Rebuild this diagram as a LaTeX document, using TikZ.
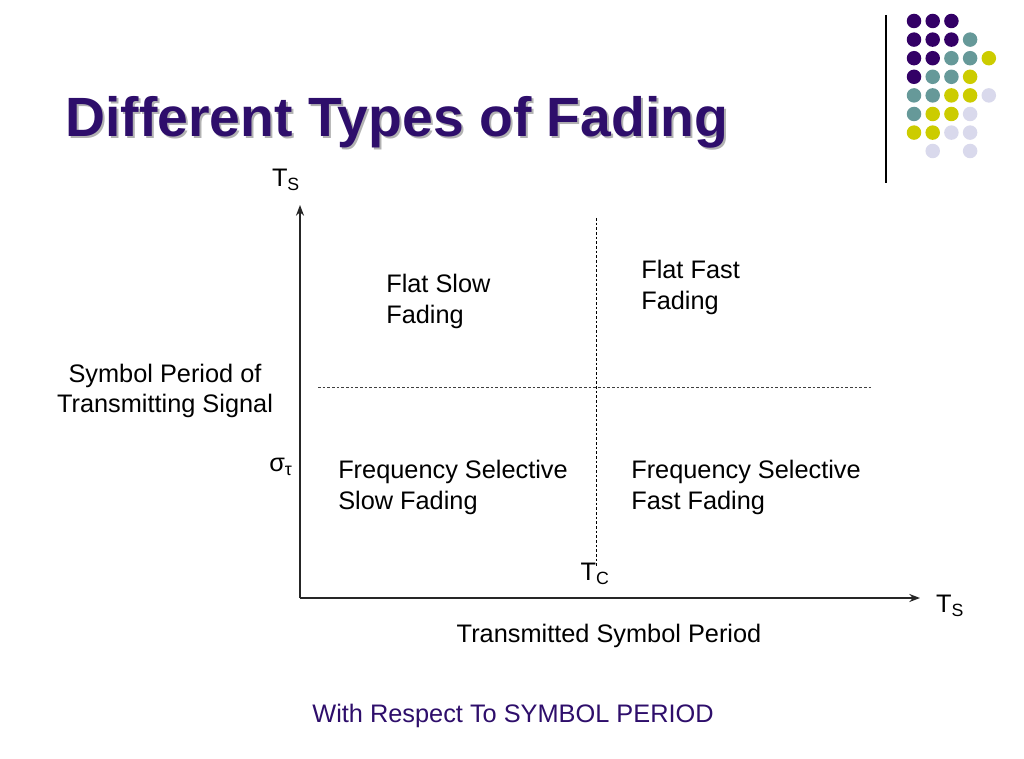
\documentclass[tikz,border=0pt]{standalone}
\usepackage{fontspec}
\setmainfont{Liberation Sans}
\usetikzlibrary{arrows.meta}
\definecolor{dP}{HTML}{330066}
\definecolor{dT}{HTML}{669999}
\definecolor{dY}{HTML}{CCCC00}
\definecolor{dL}{HTML}{D9D9EC}
\definecolor{ttl}{HTML}{2E0E6B}
\tikzset{txt/.style={font=\fontsize{19}{23}\selectfont},
 lbl/.style={txt, align=left, inner sep=0pt},
 dot/.style={circle, minimum size=14.5*0.75pt, inner sep=0pt}}
\begin{document}
\begin{tikzpicture}[x=0.75pt,y=-0.75pt]
\useasboundingbox (0,0) rectangle (1024,759);
\fill[white] (0,0) rectangle (1024,759);
% title
\node[anchor=west, font=\bfseries\fontsize{41.5}{48}\selectfont, text=gray!60, inner sep=0pt] at (67,124) {Different Types of Fading};
\node[anchor=west, font=\bfseries\fontsize{41.5}{48}\selectfont, text=ttl, inner sep=0pt] (title) at (65,122) {Different Types of Fading};
% decoration
\draw[line width=1.2pt] (886,15) -- (886,183);
\foreach \r/\row in {0/{P,P,P},1/{P,P,P,T},2/{P,P,T,T,Y},3/{P,T,T,Y},4/{T,T,Y,Y,L},5/{T,Y,Y,L},6/{Y,Y,L,L}}{
  \foreach \c [count=\i from 0] in \row {
    \node[dot, fill=d\c] at ({914+18.7*\i},{21+18.6*\r}) {};
  }
}
\node[dot, fill=dL] at ({914+18.7},151) {};
\node[dot, fill=dL] at ({914+18.7*3},151) {};
% axes
\coordinate (o) at (300,598);
\coordinate (ytop) at (300,205);
\coordinate (xend) at (920,598);
\draw[line width=1.3pt, gray!30!black, -{Stealth[length=8pt,width=6pt]}] (o) -- (ytop);
\draw[line width=1.3pt, gray!30!black, -{Stealth[length=8pt,width=6pt]}] (o) -- (xend);
\coordinate (h1) at (318,387); \coordinate (h2) at (873,387);
\coordinate (v1) at (596,218); \coordinate (v2) at (596,566);
\draw[dash pattern=on 2pt off 1.5pt, gray!50!black] (h1) -- (h2);
\draw[dash pattern=on 2pt off 1.5pt, black, line width=0.6pt] (v1) -- (v2);
% labels
\node[txt] (tsy) at (286,180) {T\textsubscript{S}};
\node[txt] (tsx) at (950,606) {T\textsubscript{S}};
\node[txt] (tc) at (595,574) {T\textsubscript{C}};
\node[txt] (sig) at (281,467) {σ\textsubscript{τ}};
\node[txt, align=center] (sp) at (165,391) {Symbol Period of\\Transmitting Signal};
\node[txt] (tsp) at (609,636) {Transmitted Symbol Period};
\node[lbl, anchor=north west] (q1) at (386,274) {Flat Slow\\Fading};
\node[lbl, anchor=north west] (q2) at (641,260) {Flat Fast\\Fading};
\node[lbl, anchor=north west] (q3) at (338,460) {Frequency Selective\\Slow Fading};
\node[lbl, anchor=north west] (q4) at (631,460) {Frequency Selective\\Fast Fading};
\node[txt, text=ttl] (foot) at (513,716) {With Respect To SYMBOL PERIOD};
\end{tikzpicture}
\end{document}
